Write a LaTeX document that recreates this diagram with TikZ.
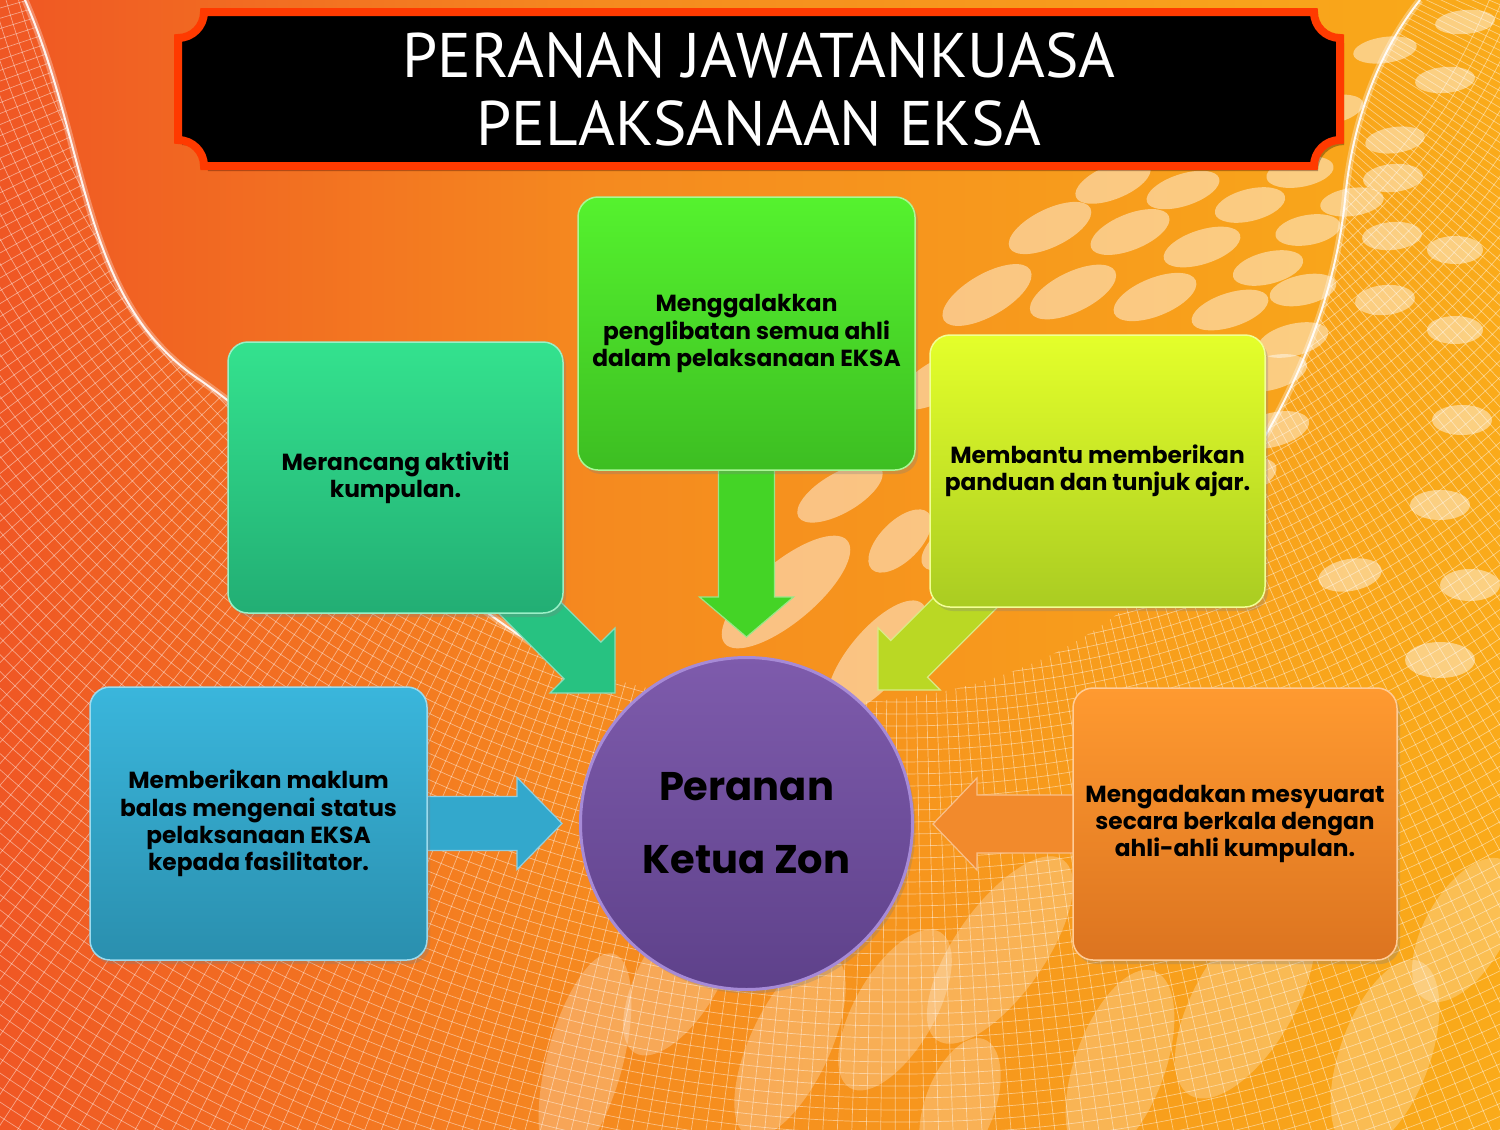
\documentclass[tikz,border=0pt]{standalone}
\usepackage{fontspec}
\setmainfont{Poppins}
\newfontfamily\titlefont{PT Sans}
\newfontfamily\boxfont{Poppins}
\usetikzlibrary{calc,shadows}
\pgfdeclarelayer{bglayer}
\pgfdeclarelayer{arrowlayer}
\pgfsetlayers{bglayer,arrowlayer,main}

\definecolor{bgA}{HTML}{E62A2A}
\definecolor{bgB}{HTML}{EE4A25}
\definecolor{bgC}{HTML}{F58A1F}
\definecolor{bgD}{HTML}{F9A81A}
\definecolor{bgE}{HTML}{FFC01C}
\definecolor{bannerred}{HTML}{FF3A00}
\definecolor{tealT}{HTML}{34E28E}
\definecolor{tealB}{HTML}{22AE74}
\definecolor{tealA}{HTML}{27C281}
\definecolor{greenT}{HTML}{55F22E}
\definecolor{greenB}{HTML}{3DBE22}
\definecolor{greenA}{HTML}{44D426}
\definecolor{ygT}{HTML}{E4FF2A}
\definecolor{ygB}{HTML}{AACC22}
\definecolor{ygA}{HTML}{BAD824}
\definecolor{blueT}{HTML}{3AB6DC}
\definecolor{blueB}{HTML}{2A8FAE}
\definecolor{blueA}{HTML}{33A8CC}
\definecolor{orT}{HTML}{FF9A30}
\definecolor{orB}{HTML}{DC7420}
\definecolor{orA}{HTML}{F28A2C}
\definecolor{purT}{HTML}{7E5BAC}
\definecolor{purB}{HTML}{5E418A}
\definecolor{purL}{HTML}{A68AD6}

\pgfdeclarehorizontalshading{bgshade}{100bp}{color(0bp)=(bgA); color(20bp)=(bgB); color(45bp)=(bgC); color(72bp)=(bgD); color(100bp)=(bgE)}

% #1 start, #2 tip, #3 shaft half width, #4 head half width, #5 head length (in pt), #6 style
\newcommand\blockarrow[6]{%
  \coordinate (bahead) at ($(#2)!#5pt!(#1)$);
  \filldraw[#6] ($(#1)!#3pt!90:(#2)$) -- ($(bahead)!#3pt!90:(#2)$) -- ($(bahead)!#4pt!90:(#2)$)
    -- (#2) -- ($(bahead)!#4pt!-90:(#2)$) -- ($(bahead)!#3pt!-90:(#2)$) -- ($(#1)!#3pt!-90:(#2)$) -- cycle;}

\tikzset{
  meshline/.style={white, opacity=0.45, line width=0.7pt},
  pale/.style={fill=white, opacity=0.45},
  blob/.style={fill=white, opacity=0.25},
  box/.style={rounded corners=20pt, line width=1.5pt, align=center, inner sep=6pt,
    font=\boxfont\bfseries\fontsize{23.3}{27.3}\selectfont, text=black,
    drop shadow={shadow xshift=3pt, shadow yshift=-4pt, opacity=0.3}},
  barrow/.style={fill=#1, draw=#1!55!white, line width=1.2pt, line join=miter},
}

\begin{document}
\begin{tikzpicture}[x=1pt,y=-1pt]
\useasboundingbox (0,0) rectangle (1500,1130);

% ---------------- background ----------------
\begin{pgfonlayer}{bglayer}
\fill[shading=bgshade] (0,0) rectangle (1500,1130);
% pale blobs and ellipses
\foreach \x/\y/\rx/\ry/\t in {
 1113/182/40/17/22, 1183/190/38/16/18, 1250/205/36/16/14, 1300/172/34/15/10, 1352/202/32/14/8,
 1050/228/45/19/26, 1130/232/42/18/22, 1202/247/40/17/18, 1268/268/36/16/14, 1308/230/33/15/10,
 987/295/50/21/30, 1073/292/47/20/26, 1155/297/44/19/22, 1230/310/40/17/18, 1293/340/36/16/14,
 1303/290/34/15/12, 1270/373/38/17/14, 1272/430/38/17/14, 1240/478/38/17/18,
 1330/110/34/14/12, 1395/140/30/13/8, 1385/50/32/13/8, 1445/80/30/13/5, 1465/22/30/12/5, 1310/48/32/13/10,
 1393/178/30/14/5, 1392/236/30/14/5, 1385/300/30/15/5, 1455/250/28/14/0, 1455/330/28/14/0,
 1462/420/30/15/0, 1440/505/30/15/0, 1470/585/30/16/0, 1350/575/32/16/10, 1440/660/35/18/0,
 840/493/48/20/30, 900/541/40/20/45, 786/592/80/30/40, 877/657/70/28/50, 960/540/45/20/35,
 1010/440/48/20/30, 940/380/48/20/30}
 \fill[pale, rotate around={\t:(\x,\y)}] (\x,\y) ellipse[x radius=\rx, y radius=\ry];
\foreach \x/\y/\rx/\ry/\t in {
 585/1060/110/38/75, 680/975/90/40/60, 790/1045/100/40/65, 895/1010/90/40/60, 1000/950/110/45/55,
 1120/1065/100/45/70, 1245/1000/110/50/60, 1385/1055/100/45/70, 1465/930/80/40/60, 960/1105/70/35/70}
 \fill[blob, rotate around={\t:(\x,\y)}] (\x,\y) ellipse[x radius=\rx, y radius=\ry];
% mesh region
\begin{scope}
\clip (0,0) -- (25,0) .. controls (90,150) and (80,300) .. (200,380)
  .. controls (300,450) and (450,600) .. (560,660)
  .. controls (650,700) and (800,720) .. (950,690)
  .. controls (1060,665) and (1140,610) .. (1200,530)
  .. controls (1290,420) and (1335,300) .. (1345,200)
  .. controls (1352,120) and (1380,50) .. (1420,0)
  -- (1500,0) -- (1500,1130) -- (0,1130) -- cycle;
\begin{scope}[shift={(900,-250)}]
\foreach \r in {640,652,...,1800} \draw[meshline] (0,0) circle[radius=\r];
\foreach \a in {5,5.6,...,178} \draw[meshline] (\a:500) -- (\a:2100);
\end{scope}
\end{scope}
% bright edges
\draw[white, line width=7pt, opacity=0.3] (25,0) .. controls (90,150) and (80,300) .. (200,380)
  .. controls (300,450) and (450,600) .. (560,660);
\draw[white, line width=2pt, opacity=0.9] (25,0) .. controls (90,150) and (80,300) .. (200,380)
  .. controls (300,450) and (450,600) .. (560,660);
\draw[white, line width=7pt, opacity=0.3] (1200,530) .. controls (1290,420) and (1335,300) .. (1345,200)
  .. controls (1352,120) and (1380,50) .. (1420,0);
\draw[white, line width=2pt, opacity=0.9] (1200,530) .. controls (1290,420) and (1335,300) .. (1345,200)
  .. controls (1352,120) and (1380,50) .. (1420,0);
\end{pgfonlayer}

% ---------------- title banner ----------------
\fill[black, opacity=0.3, shift={(4,5)}] (204,12) -- (1314,12) .. controls (1314,26.4) and (1325.6,38) .. (1340,38)
  -- (1340,140) .. controls (1325.6,140) and (1314,151.6) .. (1314,166)
  -- (204,166) .. controls (204,151.6) and (192.4,140) .. (178,140)
  -- (178,38) .. controls (192.4,38) and (204,26.4) .. (204,12) -- cycle;
\filldraw[fill=black, draw=bannerred, line width=8pt] (204,12) -- (1314,12) .. controls (1314,26.4) and (1325.6,38) .. (1340,38)
  -- (1340,140) .. controls (1325.6,140) and (1314,151.6) .. (1314,166)
  -- (204,166) .. controls (204,151.6) and (192.4,140) .. (178,140)
  -- (178,38) .. controls (192.4,38) and (204,26.4) .. (204,12) -- cycle;
\node[font=\titlefont\fontsize{63}{68}\selectfont, text=white, align=center] (title) at (759,89)
  {PERANAN JAWATANKUASA\\PELAKSANAAN EKSA};

% ---------------- boxes ----------------
\node[box, minimum width=335pt, minimum height=271pt, top color=tealT, bottom color=tealB, draw=tealT!50!white]
  (b1) at (395.5,477.5) {Merancang aktiviti\\kumpulan.};
\node[box, minimum width=337pt, minimum height=273pt, top color=greenT, bottom color=greenB, draw=greenT!50!white]
  (b2) at (746.5,333.5) {Menggalakkan\\penglibatan semua ahli\\dalam pelaksanaan EKSA};
\node[box, minimum width=335pt, minimum height=272pt, top color=ygT, bottom color=ygB, draw=ygT!50!white]
  (b3) at (1097.5,471) {Membantu memberikan\\panduan dan tunjuk ajar.};
\node[box, minimum width=337pt, minimum height=273pt, top color=blueT, bottom color=blueB, draw=blueT!50!white]
  (b4) at (258.5,823.5) {Memberikan maklum\\balas mengenai status\\pelaksanaan EKSA\\kepada fasilitator.};
\node[box, minimum width=324pt, minimum height=272pt, top color=orT, bottom color=orB, draw=orT!50!white]
  (b5) at (1235,824) {Mengadakan mesyuarat\\secara berkala dengan\\ahli-ahli kumpulan.};
\node[circle, minimum size=332pt, inner sep=0pt, top color=purT, bottom color=purB, draw=purL, line width=3pt,
  drop shadow={shadow xshift=3pt, shadow yshift=-4pt, opacity=0.3},
  font=\boxfont\bfseries\fontsize{40}{73}\selectfont, align=center, text=black]
  (c) at (746.5,823.5) {Peranan\\Ketua Zon};

% ---------------- arrows ----------------
\coordinate (t1) at (615,693);
\coordinate (t2) at (746.5,637);
\coordinate (t3) at (878,690);
\coordinate (t4) at (562,823.5);
\coordinate (t5) at (933,824);
\begin{pgfonlayer}{arrowlayer}
\coordinate (s1) at ($(b1.south east)+(-58,-30)$);
\coordinate (s2) at ($(b2.south)+(0,-10)$);
\coordinate (s3) at ($(b3.south west)+(58,-27)$);
\coordinate (s4) at ($(b4.east)+(-8,0)$);
\coordinate (s5) at ($(b5.west)+(8,0)$);
\blockarrow{s1}{t1}{26}{46}{46}{barrow=tealA}
\blockarrow{s2}{t2}{28}{47}{40}{barrow=greenA}
\blockarrow{s3}{t3}{26}{44}{44}{barrow=ygA}
\blockarrow{s4}{t4}{27}{46}{45}{barrow=blueA}
\blockarrow{s5}{t5}{29}{46}{44}{barrow=orA}
\end{pgfonlayer}
\end{tikzpicture}
\end{document}
